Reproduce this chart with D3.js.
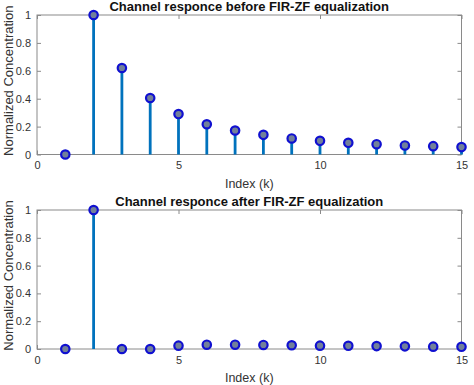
<!DOCTYPE html>
<html>
<head>
<meta charset="utf-8">
<script src="https://cdn.jsdelivr.net/npm/d3@7"></script>
<style>
  body { margin: 0; background: #fff; }
  text { font-family: Arial, "Liberation Sans", sans-serif; }
</style>
</head>
<body>
<div id="chart"></div>
<script>
// sample index k
var indexK = [1, 2, 3, 4, 5, 6, 7, 8, 9, 10, 11, 12, 13, 14, 15];
// channel response before equalization
var before = [0, 1, 0.62, 0.405, 0.29, 0.217, 0.172, 0.141, 0.115, 0.098, 0.084, 0.074, 0.065, 0.06, 0.053];
// channel response after equalization
var after = [0, 1, 0, 0, 0.024, 0.031, 0.031, 0.029, 0.027, 0.024, 0.023, 0.021, 0.019, 0.017, 0.016];
var xTicks = [0, 5, 10, 15];
var yTicks = [0, 0.2, 0.4, 0.6, 0.8, 1];
var titles = ["Channel responce before FIR-ZF equalization", "Channel responce after FIR-ZF equalization"];

var svg = d3.select("#chart").append("svg")
    .attr("width", 474)
    .attr("height", 385);

function drawPanel(values, title, top, bottom) {
    var x = d3.scaleLinear().domain([0, 15]).range([37, 461.5]);
    var y = d3.scaleLinear().domain([0, 1]).range([bottom, top]);
    var g = svg.append("g");

    // box
    g.append("rect")
        .attr("x", x(0)).attr("y", y(1))
        .attr("width", x(15) - x(0)).attr("height", y(0) - y(1))
        .attr("fill", "none").attr("stroke", "#8a8a8a").attr("stroke-width", 1);

    // axes with inward ticks
    var xa = g.append("g").attr("transform", "translate(0," + y(0) + ")")
        .call(d3.axisBottom(x).tickValues(xTicks).tickSize(-4).tickPadding(7).tickFormat(d3.format("d")));
    var xt = g.append("g").attr("transform", "translate(0," + y(1) + ")")
        .call(d3.axisTop(x).tickValues(xTicks).tickSize(-4).tickFormat(""));
    var ya = g.append("g").attr("transform", "translate(" + x(0) + ",0)")
        .call(d3.axisLeft(y).tickValues(yTicks).tickSize(-4).tickPadding(6).tickFormat(function(d) { return d === 0 || d === 1 ? d : d3.format(".1f")(d); }));
    var yr = g.append("g").attr("transform", "translate(" + x(15) + ",0)")
        .call(d3.axisRight(y).tickValues(yTicks).tickSize(-4).tickFormat(""));
    [xa, xt, ya, yr].forEach(function(a) {
        a.select(".domain").remove();
        a.selectAll("line").attr("stroke", "#8a8a8a");
        a.selectAll("text").attr("font-size", 11).attr("fill", "#333");
    });

    // title
    g.append("text")
        .attr("x", (x(0) + x(15)) / 2).attr("y", top - 4.5)
        .attr("text-anchor", "middle").attr("font-size", 13).attr("font-weight", "bold")
        .attr("fill", "#111").text(title);

    // axis labels
    g.append("text")
        .attr("x", (x(0) + x(15)) / 2).attr("y", bottom + 33)
        .attr("text-anchor", "middle").attr("font-size", 12.5).attr("fill", "#333")
        .text("Index (k)");
    g.append("text")
        .attr("transform", "translate(13," + ((top + bottom) / 2 - 4) + ") rotate(-90)")
        .attr("text-anchor", "middle").attr("font-size", 13).attr("fill", "#333")
        .text("Normalized Concentration");

    // stems
    g.selectAll(".stem").data(values).enter().append("line")
        .attr("x1", function(d, i) { return x(indexK[i]); })
        .attr("x2", function(d, i) { return x(indexK[i]); })
        .attr("y1", y(0))
        .attr("y2", function(d) { return y(d); })
        .attr("stroke", "#0072BD").attr("stroke-width", 2.8);

    // markers
    g.selectAll(".mk").data(values).enter().append("circle")
        .attr("cx", function(d, i) { return x(indexK[i]); })
        .attr("cy", function(d) { return y(d); })
        .attr("r", 4.2)
        .attr("fill", "#72809a").attr("stroke", "#1010d0").attr("stroke-width", 2.2);
}

drawPanel(before, titles[0], 15, 154.5);
drawPanel(after, titles[1], 210, 349);
</script>
</body>
</html>
